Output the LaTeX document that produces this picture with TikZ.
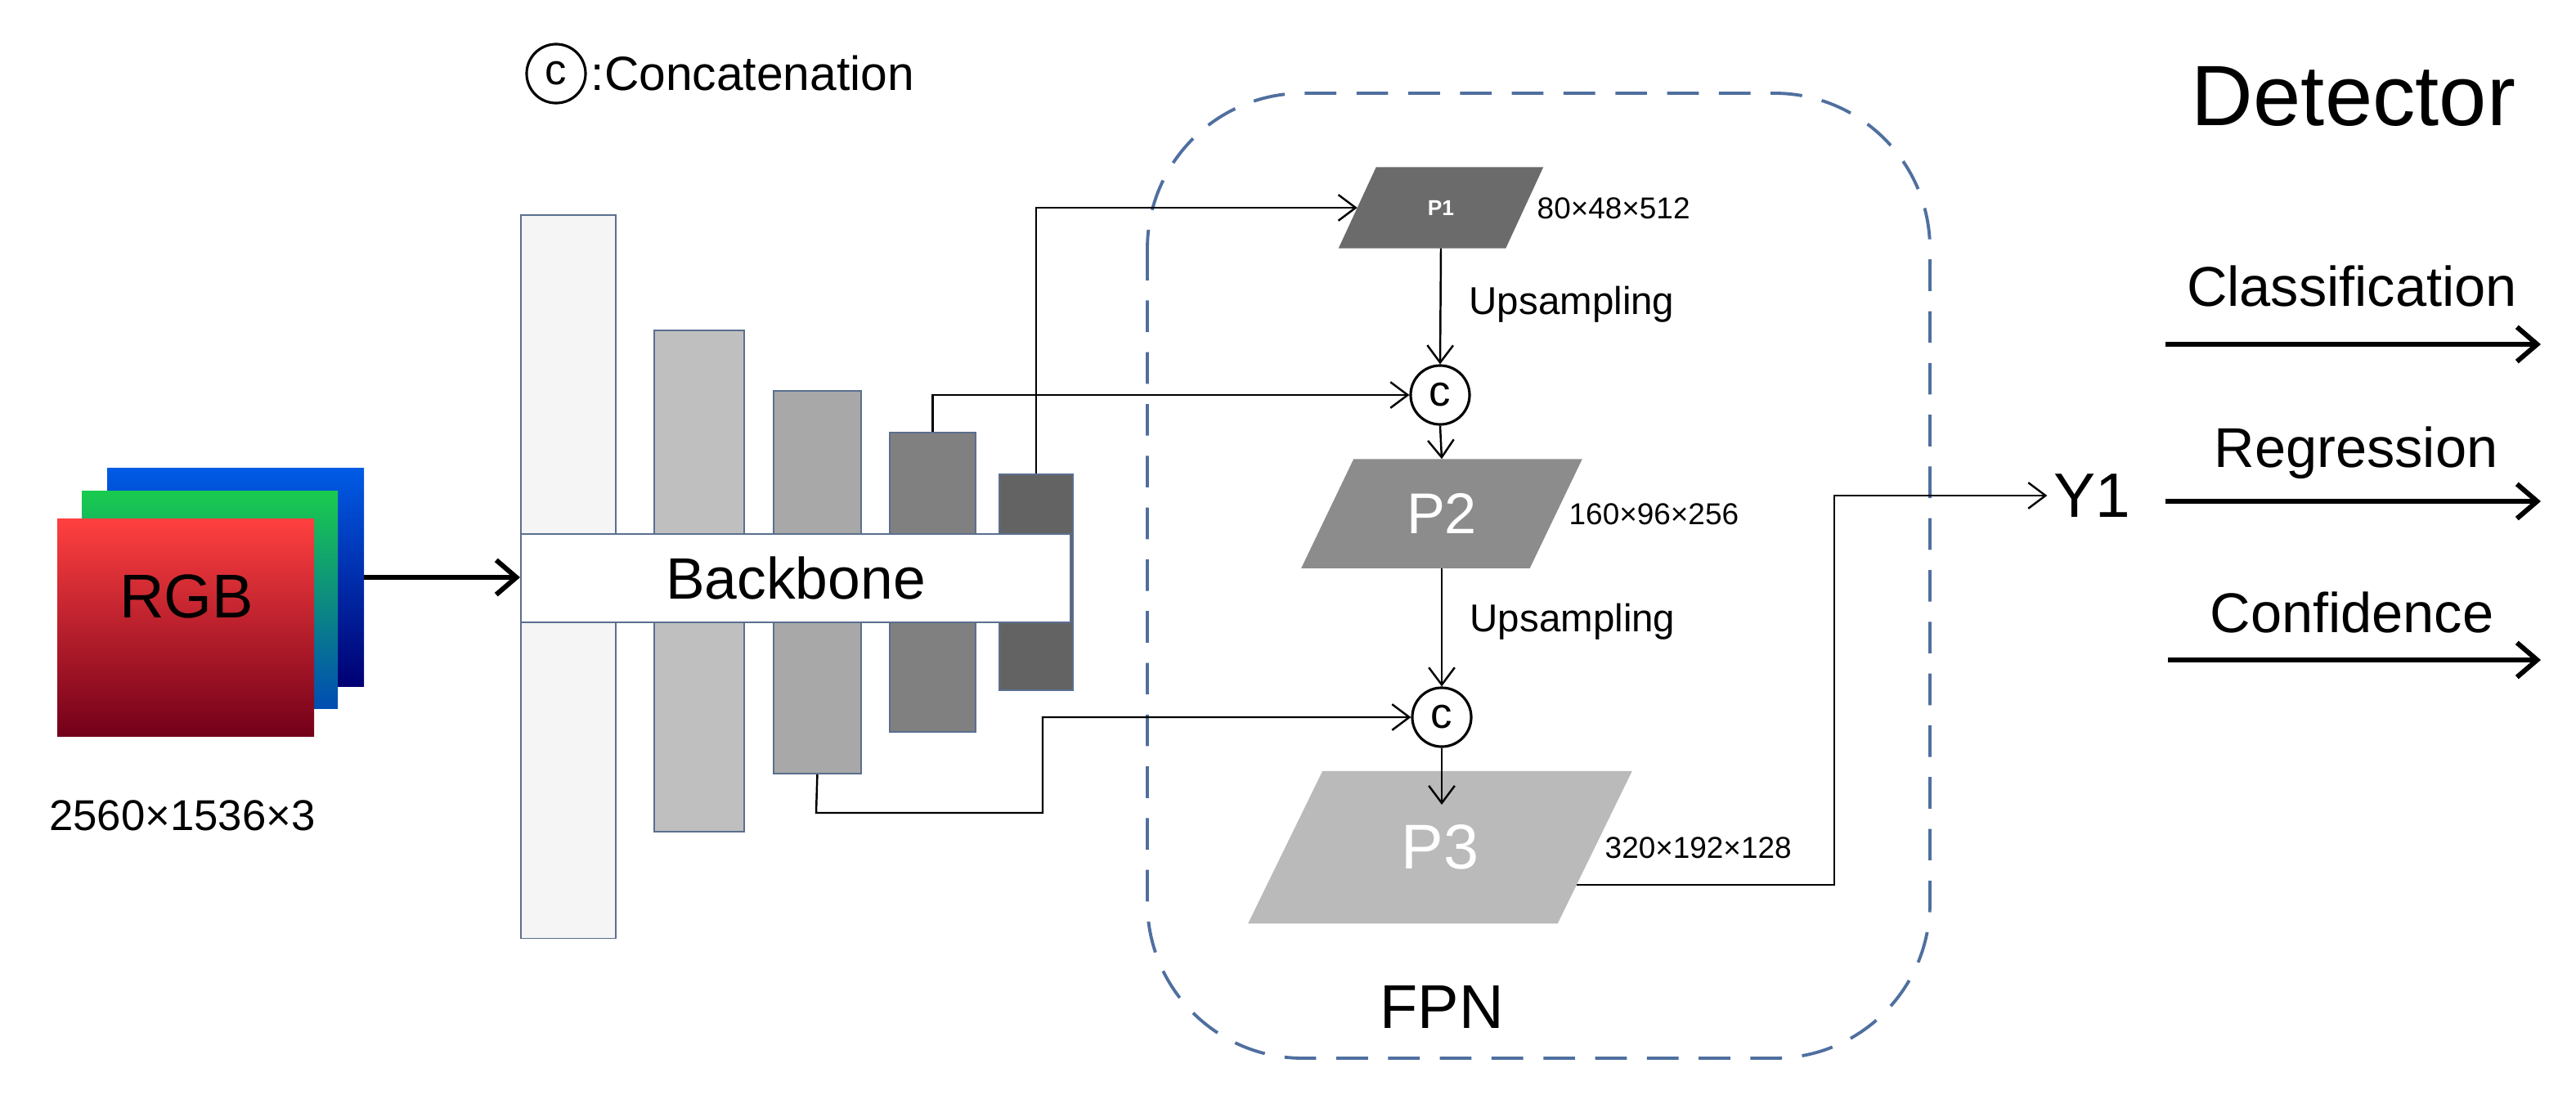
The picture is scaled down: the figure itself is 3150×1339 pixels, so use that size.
\documentclass[tikz,border=0pt]{standalone}
\usepackage{fontspec}
\setmainfont{Liberation Sans}
\usetikzlibrary{arrows.meta,calc}
\pgfdeclarelayer{background}
\pgfsetlayers{background,main}
\newcommand{\fs}[1]{\fontsize{#1}{#1}\selectfont}
\definecolor{edge}{HTML}{5A6F8F}
\definecolor{fpn}{HTML}{4F6F9F}
\begin{document}
\begin{tikzpicture}[x=0.01cm,y=-0.01cm,
  thin arr/.style={line width=0.7pt,-{Straight Barb[length=6pt,width=9pt,line width=0.7pt]}},
  thick arr/.style={line width=1.7pt,-{Straight Barb[length=7pt,width=12pt,line width=1.7pt]}},
  col/.style={draw=edge,line width=0.5pt,anchor=north west,inner sep=0pt},
  cat/.style={circle,draw,line width=0.9pt,minimum size=0.72cm,inner sep=0pt,font=\fs{15}},
  para/.style={inner sep=0pt,text=white},
  dims/.style={anchor=west,font=\fs{10.5},inner sep=0pt},
  up/.style={anchor=west,font=\fs{13.5},inner sep=0pt}]
\useasboundingbox (0,0) rectangle (3150,1339);

% legend
\node[cat] (leg) at (680,90) {c};
\node[anchor=west,font=\fs{16.7},inner sep=0pt] (legt) at (722,90) {:Concatenation};

% RGB stack
\shade[top color=blue!60!cyan!90!black,bottom color=blue!45!black] (131,572) rectangle (445,839);
\shade[top color=green!55!teal!90!white,bottom color=teal!60!blue] (100,600) rectangle (413,866);
\shade[top color=red!75!white,bottom color=red!50!black!90!blue] (70,634) rectangle (384,900);
\node[font=\fs{21.5},inner sep=0pt] (rgb) at (228,729) {RGB};
\coordinate (rgbout) at (445,706);
\node[font=\fs{15},inner sep=0pt] (inlab) at (223,997) {2560×1536×3};

% backbone columns
\node[col,fill=gray!8,minimum width=1.16cm,minimum height=8.84cm] (c1) at (636,262) {};
\node[col,fill=gray!50,minimum width=1.10cm,minimum height=6.13cm] (c2) at (799,403) {};
\node[col,fill=gray!68,minimum width=1.07cm,minimum height=4.68cm] (c3) at (945,477) {};
\node[col,fill=black!50,minimum width=1.05cm,minimum height=3.66cm] (c4) at (1087,528) {};
\node[col,fill=black!61,minimum width=0.90cm,minimum height=2.64cm] (c5) at (1221,579) {};
\node[col,fill=white,minimum width=6.72cm,minimum height=1.08cm] (bb) at (636,652) {};
\node[font=\fs{20.3},inner sep=0pt] (bbt) at (973,707) {Backbone};
\draw[thick arr] (rgbout) -- (rgbout -| bb.west);

% FPN box
\draw[fpn,line width=1.1pt,dash pattern=on 11pt off 7pt,rounded corners=1.9cm] (1403,114) rectangle (2360,1294);
\node[font=\fs{21.5},inner sep=0pt] (fpnl) at (1763,1231) {FPN};

% P nodes
\node[para,minimum width=2.03cm,minimum height=0.98cm,font=\bfseries\fs{7.5}] (P1) at (1762,254) {P1};
\node[para,minimum width=2.78cm,minimum height=1.32cm,font=\fs{20}] (P2) at (1763,628) {P2};
\node[para,minimum width=3.77cm,minimum height=1.85cm,font=\fs{22}] (P3) at (1761,1036) {P3};
\begin{pgfonlayer}{background}
\fill[black!58] ([xshift=0.23cm]P1.north west) -- ([xshift=0.23cm]P1.north east) -- ([xshift=-0.23cm]P1.south east) -- ([xshift=-0.23cm]P1.south west) -- cycle;
\fill[black!45] ([xshift=0.32cm]P2.north west) -- ([xshift=0.32cm]P2.north east) -- ([xshift=-0.32cm]P2.south east) -- ([xshift=-0.32cm]P2.south west) -- cycle;
\fill[black!27] ([xshift=0.455cm]P3.north west) -- ([xshift=0.455cm]P3.north east) -- ([xshift=-0.455cm]P3.south east) -- ([xshift=-0.455cm]P3.south west) -- cycle;
\end{pgfonlayer}
\node[dims] (d1) at (1879,255) {80×48×512};
\node[dims] (d2) at (1918,629) {160×96×256};
\node[dims] (d3) at (1962,1037) {320×192×128};

\node[cat,fill=white] (k1) at (1761,483) {c};
\node[cat,fill=white] (k2) at (1763,877) {c};
\node[up] (u1) at (1796,372) {Upsampling};
\node[up] (u2) at (1797,760) {Upsampling};

\draw[thin arr] (P1.south) -- (k1.north);
\draw[thin arr] (k1.south) -- (P2.north);
\draw[thin arr] (P2.south) -- (k2.north);
\coordinate (p3in) at (1763,984);
\draw[thin arr] (k2.south) -- (p3in);

% lateral connections
\draw[thin arr] (c5.north) |- (P1.west);
\draw[thin arr] (c4.north) |- (k1.west);
\coordinate (b1) at (998,994);
\coordinate (b2) at (1275,994);
\draw[thin arr] (c3.south) -- (b1) -- (b2) |- (k2.west);

% output
\node[font=\fs{21.8},inner sep=2pt] (Y1) at (2558,606) {Y1};
\coordinate (p3o) at (1928,1082);
\coordinate (bend) at (2243,1082);
\draw[thin arr] (p3o) -- (bend) |- (Y1.west);

% detector
\node[font=\fs{29.8},inner sep=0pt] (det) at (2878,118) {Detector};
\coordinate (a1s) at (2648,421); \coordinate (a1e) at (3107,421);
\coordinate (a2s) at (2648,613); \coordinate (a2e) at (3107,613);
\coordinate (a3s) at (2651,807); \coordinate (a3e) at (3107,807);
\draw[thick arr] (a1s) -- (a1e);
\draw[thick arr] (a2s) -- (a2e);
\draw[thick arr] (a3s) -- (a3e);
\node[font=\fs{19.5},inner sep=0pt] (cls) at (2876,350) {Classification};
\node[font=\fs{19.5},inner sep=0pt] (reg) at (2881,554) {Regression};
\node[font=\fs{19.5},inner sep=0pt] (con) at (2876,749) {Confidence};
\end{tikzpicture}
\end{document}
